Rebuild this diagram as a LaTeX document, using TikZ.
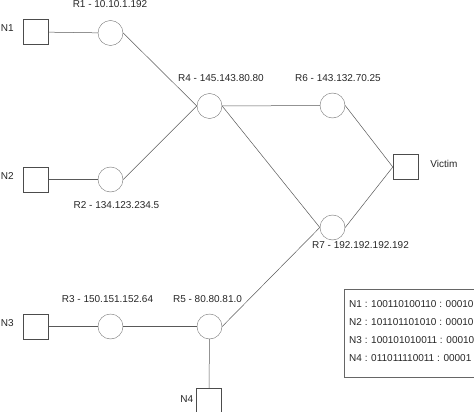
\documentclass[tikz,border=0pt]{standalone}
\usepackage{fontspec}
\setmainfont{Liberation Sans}
\usetikzlibrary{positioning}

\begin{document}
\begin{tikzpicture}[x=1pt, y=-1pt,
    router/.style={draw=black!55, circle, minimum size=25pt, inner sep=0pt},
    host/.style={draw=black!70, rectangle, minimum size=25pt, inner sep=0pt},
    tag/.style={inner sep=0pt, text=black!85, font=\fontsize{10}{12}\selectfont},
    row/.style={tag, anchor=west},
    link/.style={draw=black!65, line width=0.5pt}]

    \clip (0,0) rectangle (474,412);

    % Nodes
    \node [host] (N1) at (36,32) {};
    \node [host] (N2) at (36,179.5) {};
    \node [host] (N3) at (36,326.5) {};
    \node [host] (N4) at (209,400.5) {};
    \node [host] (victim) at (405.5,167) {};

    \node [router] (R1) at (110.5,33) {};
    \node [router] (R2) at (110.5,179.5) {};
    \node [router] (R3) at (110.5,326.5) {};
    \node [router] (R4) at (209.5,106) {};
    \node [router] (R5) at (209.5,326.5) {};
    \node [router] (R6) at (332.5,105.5) {};
    \node [router] (R7) at (332.5,227.5) {};

    % Labels
    \node [tag, left=9.5pt of N1, yshift=3.5pt] (N1_label) {N1};
    \node [tag, left=9.5pt of N2, yshift=3pt] (N2_label) {N2};
    \node [tag, left=9.5pt of N3, yshift=3.5pt] (N3_label) {N3};
    \node [tag, left=3pt of N4, yshift=1.5pt] (N4_label) {N4};
    \node [tag, right=12pt of victim, yshift=3.5pt] (victim_label) {Victim};

    \node [tag] (R1_label) at (110,4.5) {R1 - 10.10.1.192};
    \node [tag] (R2_label) at (116.5,205.5) {R2 - 134.123.234.5};
    \node [tag] (R3_label) at (107.5,299) {R3 - 150.151.152.64};
    \node [tag] (R4_label) at (221,78) {R4 - 145.143.80.80};
    \node [tag] (R5_label) at (207.5,299) {R5 - 80.80.81.0};
    \node [tag] (R6_label) at (338,78) {R6 - 143.132.70.25};
    \node [tag] (R7_label) at (360.5,245) {R7 - 192.192.192.192};

    % Table
    \node [draw=black!60, rectangle, anchor=north west, minimum width=150pt, minimum height=88pt] (mark_table) at (344,289) {};
    \node [row] (mark_N1) at (349,304) {N1 : 100110100110 : 00010};
    \node [row] (mark_N2) at (349,322) {N2 : 101101101010 : 00010};
    \node [row] (mark_N3) at (349,340) {N3 : 100101010011 : 00010};
    \node [row] (mark_N4) at (349,358) {N4 : 011011110011 : 00001};

    % Links
    \draw [link] (N1) -- (R1);
    \draw [link] (N2) -- (R2);
    \draw [link] (N3) -- (R3);
    \draw [link] (R1.east) -- (R4.west);
    \draw [link] (R2.east) -- (R4.west);
    \draw [link] (R3) -- (R5);
    \draw [link] (R4) -- (R6);
    \draw [link] (R4.east) -- (R7.west);
    \draw [link] (R5.east) -- (R7.west);
    \draw [link] (R5) -- (N4);
    \draw [link] (R6.east) -- (victim.west);
    \draw [link] (R7.east) -- (victim.west);
\end{tikzpicture}
\end{document}
